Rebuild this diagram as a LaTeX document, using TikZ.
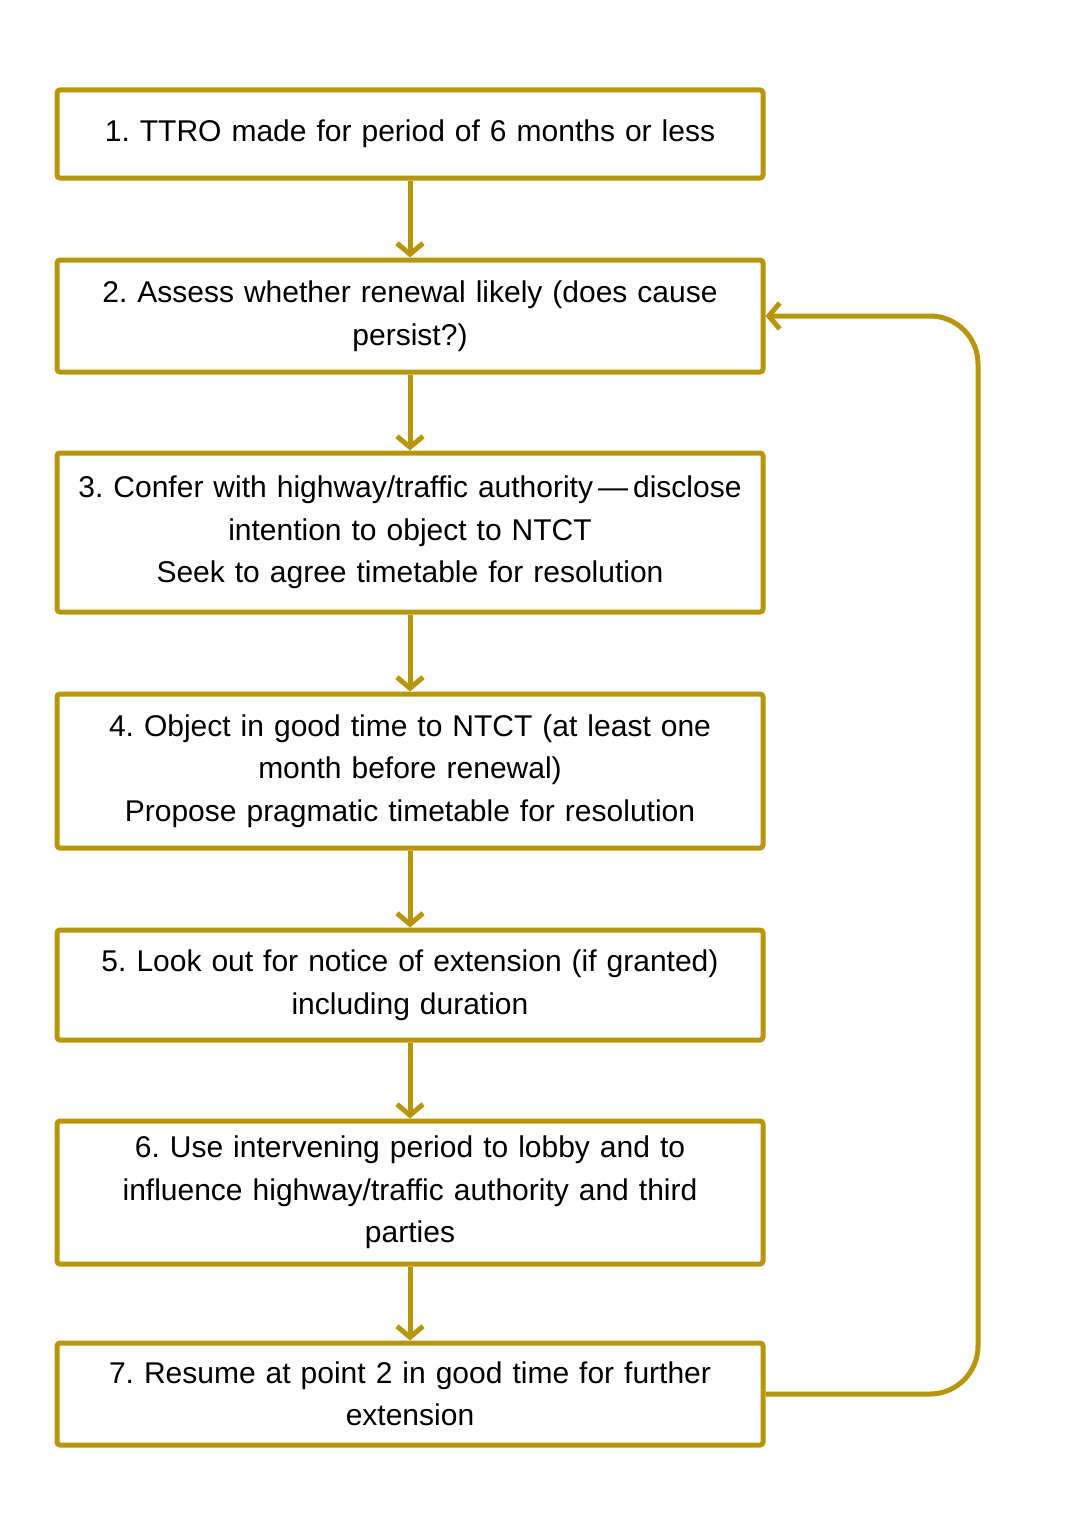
\documentclass[tikz,border=0pt]{standalone}
\usepackage{fontspec}
\setmainfont{Liberation Sans}
\usetikzlibrary{arrows.meta}
\definecolor{gold}{HTML}{B8960C}
\frenchspacing
\begin{document}
\begin{tikzpicture}[x=1pt,y=1pt,
  box/.style={draw=gold,line width=5pt,rounded corners=3pt,minimum width=706pt,text width=695pt,align=center,font=\fontsize{30}{42.5}\selectfont,inner sep=0pt},
  arr/.style={draw=gold,line width=5pt,-{Straight Barb[length=11pt,width=26pt,line width=5pt]}}]
\useasboundingbox (0,0) rectangle (1082,-1536);
\node[box,minimum height=88pt] (b1) at (410,-134) {1. TTRO made for period of 6 months or less};
\node[box,minimum height=112pt] (b2) at (410,-316) {2. Assess whether renewal likely (does cause\\persist?)};
\node[box,minimum height=159pt] (b3) at (410,-532.5) {3. Confer with highway/traffic authority\,—\,disclose\\intention to object to NTCT\\Seek to agree timetable for resolution};
\node[box,minimum height=154pt] (b4) at (410,-771) {4. Object in good time to NTCT (at least one\\month before renewal)\\Propose pragmatic timetable for resolution};
\node[box,minimum height=110pt] (b5) at (410,-985) {5. Look out for notice of extension (if granted)\\including duration};
\node[box,minimum height=143pt] (b6) at (410,-1192.5) {6. Use intervening period to lobby and to\\influence highway/traffic authority and third\\parties};
\node[box,minimum height=102pt] (b7) at (410,-1394) {7. Resume at point 2 in good time for further\\extension};
\draw[arr] (b1) -- (b2);
\draw[arr] (b2) -- (b3);
\draw[arr] (b3) -- (b4);
\draw[arr] (b4) -- (b5);
\draw[arr] (b5) -- (b6);
\draw[arr] (b6) -- (b7);
\draw[arr,rounded corners=48pt] (b7.east) -- (978,-1394) -- (978,-316) -- (b2.east);
\end{tikzpicture}
\end{document}
